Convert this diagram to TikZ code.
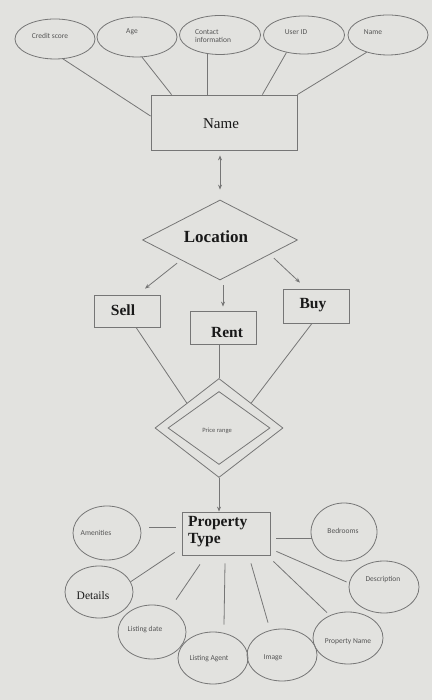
\documentclass[tikz,border=0pt]{standalone}
\usepackage{fontspec}
\setmainfont{Liberation Serif}
\newfontfamily\calib{Carlito}
\usetikzlibrary{shapes.geometric,arrows.meta,calc}
\definecolor{bg}{RGB}{226,226,223}
\definecolor{ln}{RGB}{118,118,118}
\definecolor{tx}{RGB}{25,25,25}
\definecolor{stx}{RGB}{85,85,85}
\begin{document}
\begin{tikzpicture}[x=1pt,y=1pt,
 ell/.style={draw=ln, line width=0.8pt, ellipse, inner sep=0pt},
 box/.style={draw=ln, line width=0.8pt, rectangle, inner sep=0pt},
 dia/.style={draw=ln, line width=0.8pt, diamond, inner sep=0pt},
 lnk/.style={draw=ln, line width=0.8pt},
 arr/.style={lnk, -{Stealth[length=5pt,width=4pt]}},
 darr/.style={lnk, {Stealth[length=5pt,width=4pt]}-{Stealth[length=5pt,width=4pt]}},
 small/.style={font=\calib\fontsize{7.5}{8.5}\selectfont, text=stx, inner sep=0pt},
 bigb/.style={font=\bfseries\fontsize{15.5}{17}\selectfont, text=tx, inner sep=0pt},
 bigr/.style={font=\fontsize{15}{17}\selectfont, text=tx, inner sep=0pt},
]
\fill[bg] (0,0) rectangle (432,700);
\useasboundingbox (0,0) rectangle (432,700);

% top attribute ellipses
\node[ell, minimum width=80pt, minimum height=40pt] (cs) at (55,661) {};
\node[ell, minimum width=80pt, minimum height=40pt] (age) at (137,663) {};
\node[ell, minimum width=81pt, minimum height=39pt] (ci) at (220,665) {};
\node[ell, minimum width=81pt, minimum height=38pt] (uid) at (304,665) {};
\node[ell, minimum width=80pt, minimum height=40pt] (nm) at (388,665) {};
\node[small] (cst) at ($(cs)+(-5,3)$) {Credit score};
\node[small] (aget) at ($(age)+(-5,5)$) {Age};
\node[small, align=left] (cit) at ($(ci)+(-7,-1)$) {Contact\\information};
\node[small] (uidt) at ($(uid)+(-8,3)$) {User ID};
\node[small] (nmt) at ($(nm)+(-15,3)$) {Name};

% Name entity
\node[box, minimum width=146pt, minimum height=55pt] (name) at (224,577.5) {};
\node[bigr] (namet) at ($(name)+(-3,-1.5)$) {Name};

\draw[lnk] (cs.-68) -- (name.175);
\draw[lnk] (age.-76) -- (name.152);
\draw[lnk] (ci.-123) -- (ci.-123 |- name.north);
\draw[lnk] (uid.-135) -- (name.36);
\draw[lnk] (nm.-141) -- (name.north east);

% Location
\node[dia, minimum width=155pt, minimum height=80pt] (loc) at (220,460) {};
\node[font=\bfseries\fontsize{17}{19}\selectfont, text=tx, inner sep=0pt] (loct) at ($(loc)+(-4,3)$) {Location};
\draw[darr] ($(name.south)+(-4,-5)$) -- ($(loc.north)+(0,10)$);

% Sell / Rent / Buy
\node[box, minimum width=66pt, minimum height=32pt] (sell) at (127,389) {};
\node[bigb] (sellt) at ($(sell)+(-4,1)$) {Sell};
\node[box, minimum width=66pt, minimum height=33pt] (rent) at (223,372.5) {};
\node[bigb] (rentt) at ($(rent)+(4,-5)$) {Rent};
\node[box, minimum width=66pt, minimum height=34pt] (buy) at (316,394) {};
\node[bigb] (buyt) at ($(buy)+(-3,1)$) {Buy};

\draw[arr] ($(loc.south west)+(-4,-3)$) -- ($(sell.north)+(18,6)$);
\draw[arr] ($(loc.south)+(3,-5)$) -- ($(rent.north)+(0,4)$);
\draw[arr] ($(loc.south east)+(15,2)$) -- ($(buy.north)+(-16,6)$);

% Price range (double diamond)
\node[dia, minimum width=128pt, minimum height=99pt] (pr) at (219,272) {};
\node[dia, minimum width=102pt, minimum height=73pt] (pri) at (219,272) {};
\node[small, font=\calib\fontsize{6.5}{7.5}\selectfont] (prt) at ($(pr)+(-2,-3)$) {Price range};

\draw[lnk] ($(sell.south)+(9,0)$) -- (pr.north west);
\draw[lnk] (rent.south -| pr.north) -- (pr.north);
\draw[lnk] ($(buy.south)+(-4,0)$) -- (pr.north east);

% Property Type
\node[box, minimum width=88pt, minimum height=43pt] (pt) at (226,166.5) {};
\node[bigb, align=left, anchor=west] (ptt) at (188,168.5) {Property\\Type};
\draw[arr] (pr.south) -- (pr.south |- pt.north);

% attributes of Property Type
\node[ell, minimum width=68pt, minimum height=54pt] (amen) at (107,167) {};
\node[small] (ament) at ($(amen)+(-11,0)$) {Amenities};
\node[ell, minimum width=68pt, minimum height=52pt] (det) at (99,108) {};
\node[font=\fontsize{11.5}{13}\selectfont, text=tx, inner sep=0pt] (dett) at ($(det)+(-6,-4)$) {Details};
\node[ell, minimum width=66pt, minimum height=58pt] (bed) at (344,168) {};
\node[small] (bedt) at ($(bed)+(-1,1)$) {Bedrooms};
\node[ell, minimum width=70pt, minimum height=52pt] (desc) at (384,113) {};
\node[small] (desct) at ($(desc)+(-1,7)$) {Description};
\node[ell, minimum width=68pt, minimum height=54pt] (ld) at (152,68) {};
\node[small] (ldt) at ($(ld)+(-7,2)$) {Listing date};
\node[ell, minimum width=70pt, minimum height=52pt] (la) at (213,42) {};
\node[small] (lat) at ($(la)+(-4,-1)$) {Listing Agent};
\node[ell, minimum width=70pt, minimum height=52pt] (img) at (282,45) {};
\node[small] (imgt) at ($(img)+(-9,-3)$) {Image};
\node[ell, minimum width=70pt, minimum height=52pt] (pn) at (348,62) {};
\node[small] (pnt) at ($(pn)+(0,-4)$) {Property Name};

\draw[lnk] ($(pt.west)+(-6,6.5)$) -- ($(pt.west)+(-33,6.5)$);
\draw[lnk] (det.18) -- ($(pt.south west)+(-7,3)$);
\draw[lnk] ($(ld.north)+(24,5)$) -- ($(pt.south)+(-26,-9)$);
\draw[lnk] ($(pt.south)+(-1,-8)$) -- ($(la.north)+(11,7)$);
\draw[lnk] ($(pt.south)+(25,-8)$) -- ($(img.north)+(-14,6)$);
\draw[lnk] ($(pt.south east)+(3,-6)$) -- ($(pn.north)+(-21,-1)$);
\draw[lnk] ($(pt.south east)+(6,4)$) -- ($(desc.west)+(-2,5)$);
\draw[lnk] ($(pt.east)+(6,-4.5)$) -- ($(bed.west)+(1,-6)$);
\end{tikzpicture}
\end{document}
